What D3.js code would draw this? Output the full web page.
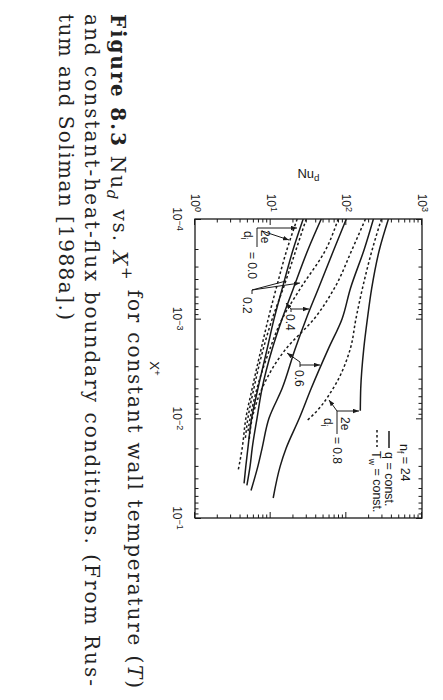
<!DOCTYPE html>
<html>
<head>
<meta charset="utf-8">
<script src="https://cdn.jsdelivr.net/npm/d3@7/dist/d3.min.js"></script>
<style>
  body { margin: 0; background: #fff; }
</style>
</head>
<body>
<svg id="page" width="443" height="700"></svg>
<script>
'use strict';

// 2e/d_i of each pair of curves (solid: q = const., dashed: T_w = const.)
let ratios = ['0.0', '0.2', '0.4', '0.6', '0.8'];

// [X+, Nu_d]
let q_00 = [[1e-4, 26.9], [2e-4, 19.9], [5e-4, 14.2], [1e-3, 11.1], [2e-3, 9.0], [5e-3, 6.8], [1e-2, 5.6], [2e-2, 5.0], [3e-2, 4.7], [0.045, 4.45]];
let q_02 = [[1e-4, 46.6], [2e-4, 31.4], [5e-4, 19.9], [1e-3, 14.2], [2e-3, 10.5], [5e-3, 7.7], [1e-2, 6.6], [2e-2, 5.7], [3e-2, 5.35], [0.047, 4.85]];
let q_04 = [[1e-4, 100], [2e-4, 69], [5e-4, 42.6], [1e-3, 29.5], [2e-3, 21.1], [5e-3, 14.2], [1e-2, 9.5], [2e-2, 7.7], [3e-2, 6.8], [0.053, 5.5]];
let q_06 = [[1e-4, 228], [2e-4, 173], [5e-4, 113], [1e-3, 88], [2e-3, 58], [5e-3, 34.4], [1e-2, 23.9], [2e-2, 16.0], [3e-2, 13.4], [0.063, 10.8]];
let q_08 = [[1e-4, 360], [2e-4, 275], [5e-4, 216], [1e-3, 190], [2e-3, 170], [5e-3, 155], [0.0084, 153]];

let t_00 = [[1e-4, 22.4], [2e-4, 16.5], [5e-4, 11.8], [1e-3, 9.3], [2e-3, 7.5], [5e-3, 5.7], [1e-2, 4.7], [2e-2, 4.2], [0.034, 3.7]];
let t_02 = [[1e-4, 29.5], [2e-4, 21.8], [5e-4, 14.6], [1e-3, 10.5], [2e-3, 8.0], [5e-3, 6.0], [1e-2, 5.0], [0.0165, 4.6]];
let t_04 = [[1e-4, 78], [2e-4, 54], [5e-4, 24.6], [1e-3, 14.2], [2e-3, 9.8], [5e-3, 6.6], [1e-2, 5.35], [0.0137, 5.0]];
let t_06 = [[1e-4, 179], [2e-4, 120], [5e-4, 69], [1e-3, 37.7], [2e-3, 16.0], [5e-3, 7.7], [1e-2, 5.7], [0.0165, 5.2]];
let t_08 = [[1e-4, 291], [2e-4, 221], [5e-4, 163], [1e-3, 134], [2e-3, 113], [5e-3, 67], [8.4e-3, 41], [0.0106, 30]];

let xp_decades = [1e-4, 1e-3, 1e-2, 1e-1];
let xp_labels = ['\u22124', '\u22123', '\u22122', '\u22121'];
let nu_decades = [1, 10, 100, 1000];
let nu_labels = ['0', '1', '2', '3'];

let curves = [
    {ratio: ratios[0], bc: 'q', pts: q_00}, {ratio: ratios[1], bc: 'q', pts: q_02},
    {ratio: ratios[2], bc: 'q', pts: q_04}, {ratio: ratios[3], bc: 'q', pts: q_06},
    {ratio: ratios[4], bc: 'q', pts: q_08},
    {ratio: ratios[0], bc: 'T', pts: t_00}, {ratio: ratios[1], bc: 'T', pts: t_02},
    {ratio: ratios[2], bc: 'T', pts: t_04}, {ratio: ratios[3], bc: 'T', pts: t_06},
    {ratio: ratios[4], bc: 'T', pts: t_08}
];

let ink = '#1a1a1a';
let sans = 'Liberation Sans, Arial, sans-serif';

let svg = d3.select('#page');

// the whole plot is printed turned a quarter clockwise
let W = 299, H = 227;
let chart = svg.append('g').attr('transform', 'translate(422,219) rotate(90)');

let x = d3.scaleLog().domain([1e-4, 1e-1]).range([0, W]);
let y = d3.scaleLog().domain([1, 1000]).range([H, 0]);

let isMajor = function(v) { return Math.abs(Math.log10(v) - Math.round(Math.log10(v))) < 1e-9; };
let xMinor = x.ticks().filter(v => !isMajor(v));
let yMinor = y.ticks().filter(v => !isMajor(v));

// ticks on all four sides, pointing in
let addTicks = function(axis, vals, len, tr) {
    chart.append('g')
        .attr('transform', tr)
        .call(axis.tickValues(vals).tickSize(-len).tickFormat(''))
        .call(g => g.select('.domain').remove())
        .call(g => g.selectAll('line').attr('stroke', ink).attr('stroke-width', 1));
};
[[6, xp_decades], [3.5, xMinor]].forEach(function(p) {
    addTicks(d3.axisBottom(x), p[1], p[0], 'translate(0,' + H + ')');
    addTicks(d3.axisTop(x), p[1], p[0], 'translate(0,0)');
});
[[6, nu_decades], [3.5, yMinor]].forEach(function(p) {
    addTicks(d3.axisLeft(y), p[1], p[0], 'translate(0,0)');
    addTicks(d3.axisRight(y), p[1], p[0], 'translate(' + W + ',0)');
});

chart.append('rect')
    .attr('width', W).attr('height', H)
    .attr('fill', 'none').attr('stroke', ink).attr('stroke-width', 1.3);

chart.append('clipPath').attr('id', 'box')
    .append('rect').attr('width', W).attr('height', H);

let line = d3.line()
    .x(d => x(d[0]))
    .y(d => y(d[1]))
    .curve(d3.curveMonotoneX);

chart.append('g').attr('clip-path', 'url(#box)')
    .selectAll('path')
    .data(curves)
    .join('path')
    .attr('d', d => line(d.pts))
    .attr('fill', 'none')
    .attr('stroke', ink)
    .attr('stroke-width', 1.5)
    .attr('stroke-dasharray', d => d.bc == 'T' ? '2.6,2.4' : null);

// decade labels
let power = function(sel, exps) {
    sel.append('tspan').text('10');
    sel.append('tspan').attr('dy', '-0.45em').attr('font-size', '0.75em').text((d, i) => exps[i]);
};
chart.append('g').selectAll('text')
    .data(xp_decades)
    .join('text')
    .attr('x', d => x(d))
    .attr('y', H + 22)
    .attr('text-anchor', 'middle')
    .attr('font-family', sans).attr('font-size', 12).attr('fill', ink)
    .call(power, xp_labels);

chart.append('g').selectAll('text')
    .data(nu_decades)
    .join('text')
    .attr('x', -7)
    .attr('y', d => y(d) + 4)
    .attr('text-anchor', 'end')
    .attr('font-family', sans).attr('font-size', 12).attr('fill', ink)
    .call(power, nu_labels);

// axis titles
let xt = chart.append('text')
    .attr('x', W / 2).attr('y', H + 45)
    .attr('text-anchor', 'middle')
    .attr('font-family', sans).attr('font-size', 13).attr('fill', ink);
xt.append('tspan').text('X');
xt.append('tspan').attr('dy', '-0.4em').attr('font-size', '0.75em').text('+');

let yt = chart.append('text')
    .attr('transform', 'translate(-41,' + (H / 2) + ') rotate(-90)')
    .attr('text-anchor', 'middle')
    .attr('font-family', sans).attr('font-size', 13).attr('fill', ink);
yt.append('tspan').text('Nu');
yt.append('tspan').attr('dy', '0.3em').attr('font-size', '0.75em').text('d');

// ---- notes and legend, laid out on the page (they read top to bottom) ----
let notes = svg.append('g').attr('font-family', sans).attr('font-size', 12).attr('fill', ink);

svg.append('defs').append('marker')
    .attr('id', 'head').attr('viewBox', '0 0 8 6')
    .attr('refX', 8).attr('refY', 3)
    .attr('markerWidth', 6).attr('markerHeight', 5)
    .attr('orient', 'auto')
    .append('path').attr('d', 'M0,0 L8,3 L0,6 z').attr('fill', ink);

let rtext = function(px, py, parts, size) {
    let t = notes.append('text')
        .attr('transform', 'translate(' + px + ',' + py + ') rotate(90)')
        .attr('font-size', size || 12);
    parts.forEach(function(p) {
        let s = t.append('tspan').text(p.t);
        if (p.sub) s.attr('dy', '0.3em').attr('font-size', '0.7em');
        if (p.back) s.attr('dy', '-0.3em');
    });
    return t;
};
let seg = function(pts, arrow) {
    notes.append('path')
        .attr('d', d3.line()(pts))
        .attr('fill', 'none').attr('stroke', ink).attr('stroke-width', 1)
        .attr('marker-end', arrow ? 'url(#head)' : null);
};
let frac = function(px, py) {
    rtext(px + 4, py + 2, [{t: '2e'}]);
    rtext(px - 13, py + 3, [{t: 'd'}, {t: 'i', sub: 1}]);
    seg([[px, py], [px, py + 19]]);
};

// 2e/d_i = 0.0 and 0.2
frac(257, 228);
seg([[257, 228], [297, 228]], true);
seg([[262, 231], [289, 240]], true);
rtext(248, 252, [{t: '= 0.0'}]);
rtext(243, 297, [{t: '0.2'}]);
seg([[252, 294], [252, 290], [286, 281]]);
seg([[252, 290], [300, 283]], true);

// 0.4
rtext(286, 314, [{t: '0.4'}]);
seg([[291, 312], [291, 309], [286, 303]], true);
seg([[291, 309], [309, 309]], true);

// 0.6
rtext(295, 370, [{t: '0.6'}]);
seg([[300, 367], [300, 362], [287, 353]], true);
seg([[300, 365], [320, 365]], true);

// 0.8
frac(337, 415);
seg([[337, 415], [337, 411], [359, 411]], true);
seg([[337, 411], [329, 400]], true);
rtext(333, 437, [{t: '= 0.8'}]);

// legend
rtext(400, 444, [{t: 'n'}, {t: 'f', sub: 1}, {t: ' = 24', back: 1}], 12.5);
notes.append('line').attr('x1', 389).attr('x2', 389).attr('y1', 431).attr('y2', 448)
    .attr('stroke', ink).attr('stroke-width', 1.5);
rtext(385, 452, [{t: 'q = const.'}], 12.5);
notes.append('line').attr('x1', 377).attr('x2', 377).attr('y1', 430).attr('y2', 447)
    .attr('stroke', ink).attr('stroke-width', 1.5).attr('stroke-dasharray', '2.6,2.4');
rtext(372, 451, [{t: 'T'}, {t: 'w', sub: 1}, {t: ' = const.', back: 1}], 12.5);

// ---- caption, also turned ----
let serif = 'DejaVu Serif, serif';
let capLines = [
    [{t: 'Figure 8.3', b: 1}, {t: ' Nu'}, {t: 'd', i: 1, sub: 1}, {t: ' vs. ', back: 1}, {t: 'X', i: 1},
     {t: '+', sup: 1}, {t: ' for constant wall temperature (', back: 1}, {t: 'T', i: 1}, {t: ')'}],
    [{t: 'and constant-heat-flux boundary conditions. (From Rus-'}],
    [{t: 'tum and Soliman [1988a].)'}]
];
let capX = [111, 85, 59];
let capLen = [674, 672, 306];

capLines.forEach(function(parts, k) {
    let t = svg.append('text')
        .attr('transform', 'translate(' + capX[k] + ',14) rotate(90)')
        .attr('font-family', serif).attr('font-size', 20).attr('fill', '#222')
        .attr('textLength', capLen[k]).attr('lengthAdjust', 'spacing');
    parts.forEach(function(p) {
        let s = t.append('tspan').text(p.t);
        if (p.b) s.attr('font-weight', 'bold');
        if (p.i) s.attr('font-style', 'italic');
        if (p.sub) s.attr('dy', '0.3em').attr('font-size', '0.75em');
        if (p.sup) s.attr('dy', '-0.6em').attr('font-size', '0.75em');
        if (p.back) s.attr('dy', '-0.3em');
    });
});
</script>
</body>
</html>
